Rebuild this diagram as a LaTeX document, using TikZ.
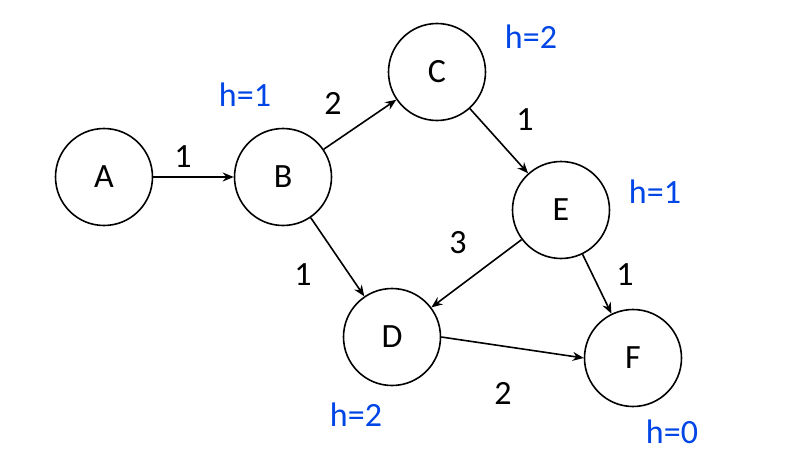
\documentclass[tikz,border=0pt]{standalone}
\usepackage{fontspec}
\setmainfont{Carlito}
\usetikzlibrary{arrows.meta}
\begin{document}
\begin{tikzpicture}[x=1pt,y=-1pt,
  nd/.style={circle,draw,line width=1.6pt,minimum size=97pt,inner sep=0pt,font=\fontsize{34}{40}\selectfont},
  ed/.style={-{Stealth[length=11pt,width=9pt]},line width=1.6pt},
  wl/.style={font=\fontsize{34}{40}\selectfont},
  hl/.style={font=\fontsize{34}{40}\selectfont,text=blue!70!cyan!90!black}]
\useasboundingbox (0,0) rectangle (795,460);
\node[nd] (A) at (104,177) {A};
\node[nd] (B) at (283,177) {B};
\node[nd] (C) at (437,72) {C};
\node[nd] (E) at (561,210) {E};
\node[nd] (D) at (392,337) {D};
\node[nd] (F) at (633,358) {F};
\draw[ed] (A) -- (B);
\draw[ed] (B) -- (C);
\draw[ed] (C) -- (E);
\draw[ed] (E) -- (D);
\draw[ed] (B) -- (D);
\draw[ed] (E) -- (F);
\draw[ed] (D.east) -- (F.west);
\node[wl] (w1) at (183,157) {1};
\node[wl] (w2) at (333,103) {2};
\node[wl] (w3) at (525,120) {1};
\node[wl] (w4) at (458,243) {3};
\node[wl] (w5) at (303,275) {1};
\node[wl] (w6) at (625,275) {1};
\node[wl] (w7) at (503,393) {2};
\node[hl] (h1) at (245,95) {h=1};
\node[hl] (h2) at (531,37) {h=2};
\node[hl] (h3) at (655,192) {h=1};
\node[hl] (h4) at (356,415) {h=2};
\node[hl] (h5) at (672,432) {h=0};
\end{tikzpicture}
\end{document}
